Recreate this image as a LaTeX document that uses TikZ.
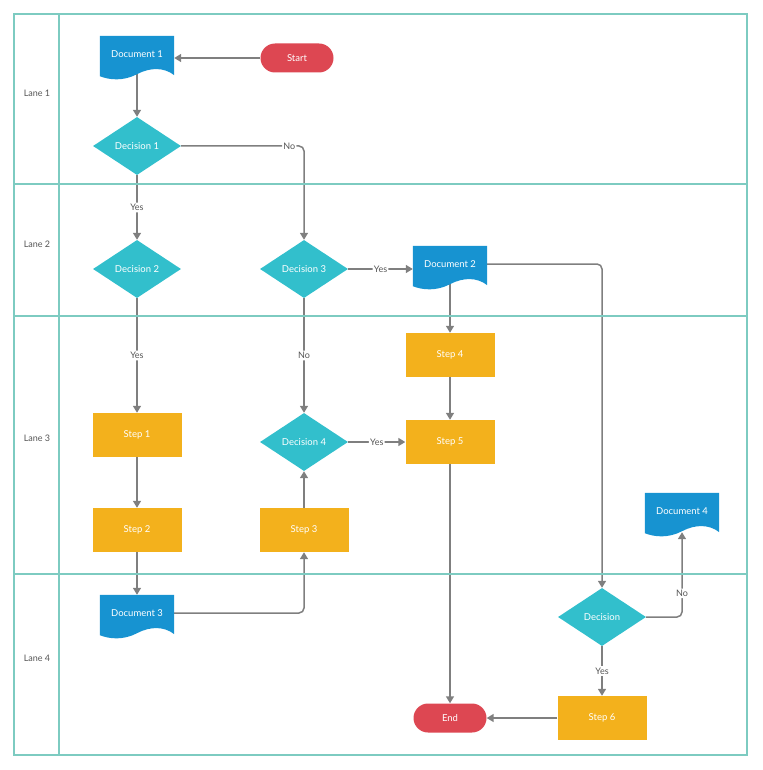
\documentclass[tikz,border=0pt]{standalone}
\usepackage{fontspec}
\setmainfont{Lato}
\usetikzlibrary{shapes,arrows.meta,positioning,calc}

\definecolor{docblue}{HTML}{1793D1}
\definecolor{decteal}{HTML}{32BFCC}
\definecolor{stepyel}{HTML}{F3B11C}
\definecolor{termred}{HTML}{DD4752}
\definecolor{lanegreen}{HTML}{7DCBC1}
\definecolor{arrowgray}{HTML}{7F7F7F}
\definecolor{txtgray}{HTML}{555555}

\pgfdeclarelayer{bg}
\pgfdeclarelayer{docs}
\pgfsetlayers{bg,docs,main}

% wavy document fill under node #1
\newcommand{\docwave}[1]{%
  \fill[docblue] (#1.north west) -- (#1.north east) -- ($(#1.south east)+(0,3)$)
    .. controls ($(#1.south east)+(-10,-5)$) and ($(#1.south east)+(-24,-5)$) .. ($(#1.south)+(0,2)$)
    .. controls ($(#1.south west)+(24,9)$) and ($(#1.south west)+(10,8)$) .. ($(#1.south west)+(0,4)$) -- cycle;}

\begin{document}
\begin{tikzpicture}[x=1pt,y=-1pt, font=\fontsize{9.5}{11}\selectfont,
  doc/.style={minimum width=74pt, minimum height=36pt, inner sep=0pt, text=white},
  decision/.style={diamond, fill=decteal, text=white, minimum width=88pt, minimum height=58pt, inner sep=0pt},
  stepbox/.style={fill=stepyel, text=white, minimum width=89pt, minimum height=44pt, inner sep=0pt},
  termbox/.style={fill=termred, text=white, minimum width=73pt, minimum height=29pt, rounded corners=14.5pt, inner sep=0pt},
  lbl/.style={fill=white, text=txtgray, inner sep=1.5pt, font=\fontsize{9}{10}\selectfont},
  lanelbl/.style={text=txtgray, font=\fontsize{9}{10}\selectfont},
  lane/.style={draw=lanegreen, line width=1.5pt},
  conn/.style={draw=arrowgray, line width=1.5pt, -{Triangle[length=7pt,width=8pt]}, rounded corners=5pt}]
  \useasboundingbox (0,0) rectangle (762,770);

  % Lanes
  \draw[lane] (14,14) rectangle (747,755);
  \draw[lane] (59,14) -- (59,755);
  \foreach \y in {184,316,574}
    \draw[lane] (14,\y) -- (747,\y);
  \node[lanelbl] (lane1) at (37,93) {Lane 1};
  \node[lanelbl] (lane2) at (37,244) {Lane 2};
  \node[lanelbl] (lane3) at (37,438) {Lane 3};
  \node[lanelbl] (lane4) at (37,658) {Lane 4};

  % Shapes
  \node[doc] (doc1) at (137,54) {Document 1};
  \node[termbox] (start) at (297,58) {Start};
  \node[decision] (dec1) at (137,146) {Decision 1};
  \node[decision] (dec2) at (137,269) {Decision 2};
  \node[decision] (dec3) at (304,269) {Decision 3};
  \node[doc] (doc2) at (450,264) {Document 2};
  \node[stepbox] (step4) at (450,355) {Step 4};
  \node[stepbox] (step5) at (450,442) {Step 5};
  \node[decision] (dec4) at (304,442) {Decision 4};
  \node[stepbox] (step1) at (137,435) {Step 1};
  \node[stepbox] (step2) at (137,530) {Step 2};
  \node[stepbox] (step3) at (304,530) {Step 3};
  \node[doc] (doc3) at (137,613) {Document 3};
  \node[doc] (doc4) at (682,511) {Document 4};
  \node[decision] (dec5) at (602,617) {Decision};
  \node[stepbox] (step6) at (602,718) {Step 6};
  \node[termbox] (finish) at (450,718) {End};

  \begin{pgfonlayer}{docs}
    \docwave{doc1} \docwave{doc2} \docwave{doc3} \docwave{doc4}
  \end{pgfonlayer}

  % Connectors
  \begin{pgfonlayer}{bg}
    \draw[conn] (start.west) -- (start.west -| doc1.east);
    \draw[conn] (doc1.south) -- (dec1.north);
    \draw[conn] (dec1.east) -| node[lbl,pos=0.44]{No} (dec3.north);
    \draw[conn] (dec1.south) -- node[lbl]{Yes} (dec2.north);
    \draw[conn] (dec2.south) -- node[lbl]{Yes} (step1.north);
    \draw[conn] (step1) -- (step2);
    \draw[conn] (step2) -- (doc3);
    \draw[conn] (doc3.east) -| (step3.south);
    \draw[conn] (step3) -- (dec4);
    \draw[conn] (dec3.south) -- node[lbl]{No} (dec4.north);
    \draw[conn] (dec3.east) -- node[lbl]{Yes} (dec3.east -| doc2.west);
    \draw[conn] (dec4.east) -- node[lbl]{Yes} (step5.west);
    \draw[conn] (doc2.south) -- (step4.north);
    \draw[conn] (step4) -- (step5);
    \draw[conn] (step5) -- (finish);
    \draw[conn] (doc2.east) -| (dec5.north);
    \draw[conn] (dec5.east) -| node[lbl,pos=0.64]{No} ([yshift=-3pt]doc4.south);
    \draw[conn] (dec5.south) -- node[lbl]{Yes} (step6.north);
    \draw[conn] (step6) -- (finish);
  \end{pgfonlayer}
\end{tikzpicture}
\end{document}
